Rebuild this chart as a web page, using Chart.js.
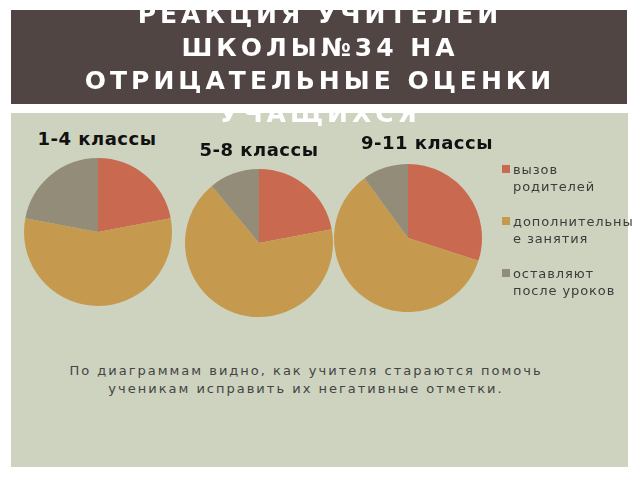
<!DOCTYPE html>
<html>
<head>
<meta charset="utf-8">
<script src="https://cdn.jsdelivr.net/npm/chart.js@4.4.1/dist/chart.umd.min.js"></script>
<style>
    html, body {
        margin: 0;
        width: 640px;
        height: 480px;
        background: #ffffff;
        overflow: hidden;
        font-family: "DejaVu Sans", sans-serif;
    }
    .banda {
        position: absolute;
        left: 11px; top: 10px;
        width: 616px; height: 94px;
        background: #504543;
    }
    .panel {
        position: absolute;
        left: 11px; top: 113px;
        width: 617px; height: 354px;
        background: #cdd3bf;
    }
    .titulo {
        position: absolute;
        left: 0; top: -2px;
        width: 640px;
        text-align: center;
        color: #ffffff;
        font-weight: bold;
        font-size: 25px;
        line-height: 33px;
        letter-spacing: 4px;
        z-index: 5;
    }
    .pie {
        position: absolute;
        width: 150px;
        height: 150px;
    }
    .grupo {
        position: absolute;
        width: 200px;
        text-align: center;
        font-weight: bold;
        font-size: 18px;
        line-height: 22px;
        letter-spacing: 0.5px;
        color: #111;
    }
    .leyenda {
        position: absolute;
        left: 502px; top: 161px;
        font-size: 13px;
        line-height: 17px;
        letter-spacing: 0.9px;
        color: #3c3c3c;
    }
    .leyenda .item {
        position: relative;
        padding-left: 11px;
        margin-bottom: 18px;
    }
    .leyenda .cuadro {
        position: absolute;
        left: 0; top: 4px;
        width: 8px; height: 8px;
    }
    .nota {
        position: absolute;
        left: 26px; top: 362px;
        width: 560px;
        text-align: center;
        font-size: 13px;
        line-height: 18px;
        letter-spacing: 2px;
        color: #444444;
    }
</style>
</head>
<body>
<div class="banda"></div>
<div class="panel"></div>
<div class="titulo">РЕАКЦИЯ УЧИТЕЛЕЙ<br>ШКОЛЫ№34 НА<br>ОТРИЦАТЕЛЬНЫЕ ОЦЕНКИ<br>УЧАЩИХСЯ</div>

<canvas id="pie0" class="pie"></canvas>
<canvas id="pie1" class="pie"></canvas>
<canvas id="pie2" class="pie"></canvas>

<div id="leyenda" class="leyenda"></div>

<div class="nota">По диаграммам видно, как учителя стараются помочь<br>ученикам исправить их негативные отметки.</div>

<script>
// datos
const categorias = [['вызов', 'родителей'], ['дополнительны', 'е занятия'], ['оставляют', 'после уроков']];
const grupos = ['1-4 классы', '5-8 классы', '9-11 классы'];
const valores14 = [22, 56, 22];
const valores58 = [22, 67, 11];
const valores911 = [30, 60, 10];

const colores = ['#c9694f', '#c59a4e', '#938c78'];

// posicion de cada pastel y su titulo
const disposicion = [
    { cx: 98,  cy: 232, tx: 97,  ty: 128 },
    { cx: 259, cy: 243, tx: 259, ty: 139 },
    { cx: 408, cy: 238, tx: 427, ty: 132 }
];

const series = [valores14, valores58, valores911];

series.forEach((valores, i) => {
    const pos = disposicion[i];
    const canvas = document.getElementById('pie' + i);
    canvas.style.left = (pos.cx - 75) + 'px';
    canvas.style.top = (pos.cy - 75) + 'px';

    const titulo = document.createElement('div');
    titulo.className = 'grupo';
    titulo.style.left = (pos.tx - 100) + 'px';
    titulo.style.top = pos.ty + 'px';
    titulo.innerText = grupos[i];
    document.body.appendChild(titulo);

    new Chart(canvas.getContext('2d'), {
        type: 'pie',
        data: {
            labels: categorias,
            datasets: [{
                data: valores,
                backgroundColor: colores,
                borderWidth: 0
            }]
        },
        options: {
            responsive: false,
            animation: false,
            layout: { padding: 1 },
            plugins: {
                legend: { display: false },
                tooltip: { enabled: false }
            }
        }
    });
});

// leyenda comun
const leyenda = document.getElementById('leyenda');
categorias.forEach((lineas, i) => {
    leyenda.innerHTML += `
        <div class="item">
            <span class="cuadro" style="background:${colores[i]}"></span>
            ${lineas.join('<br>')}
        </div>
    `;
});
</script>
</body>
</html>
